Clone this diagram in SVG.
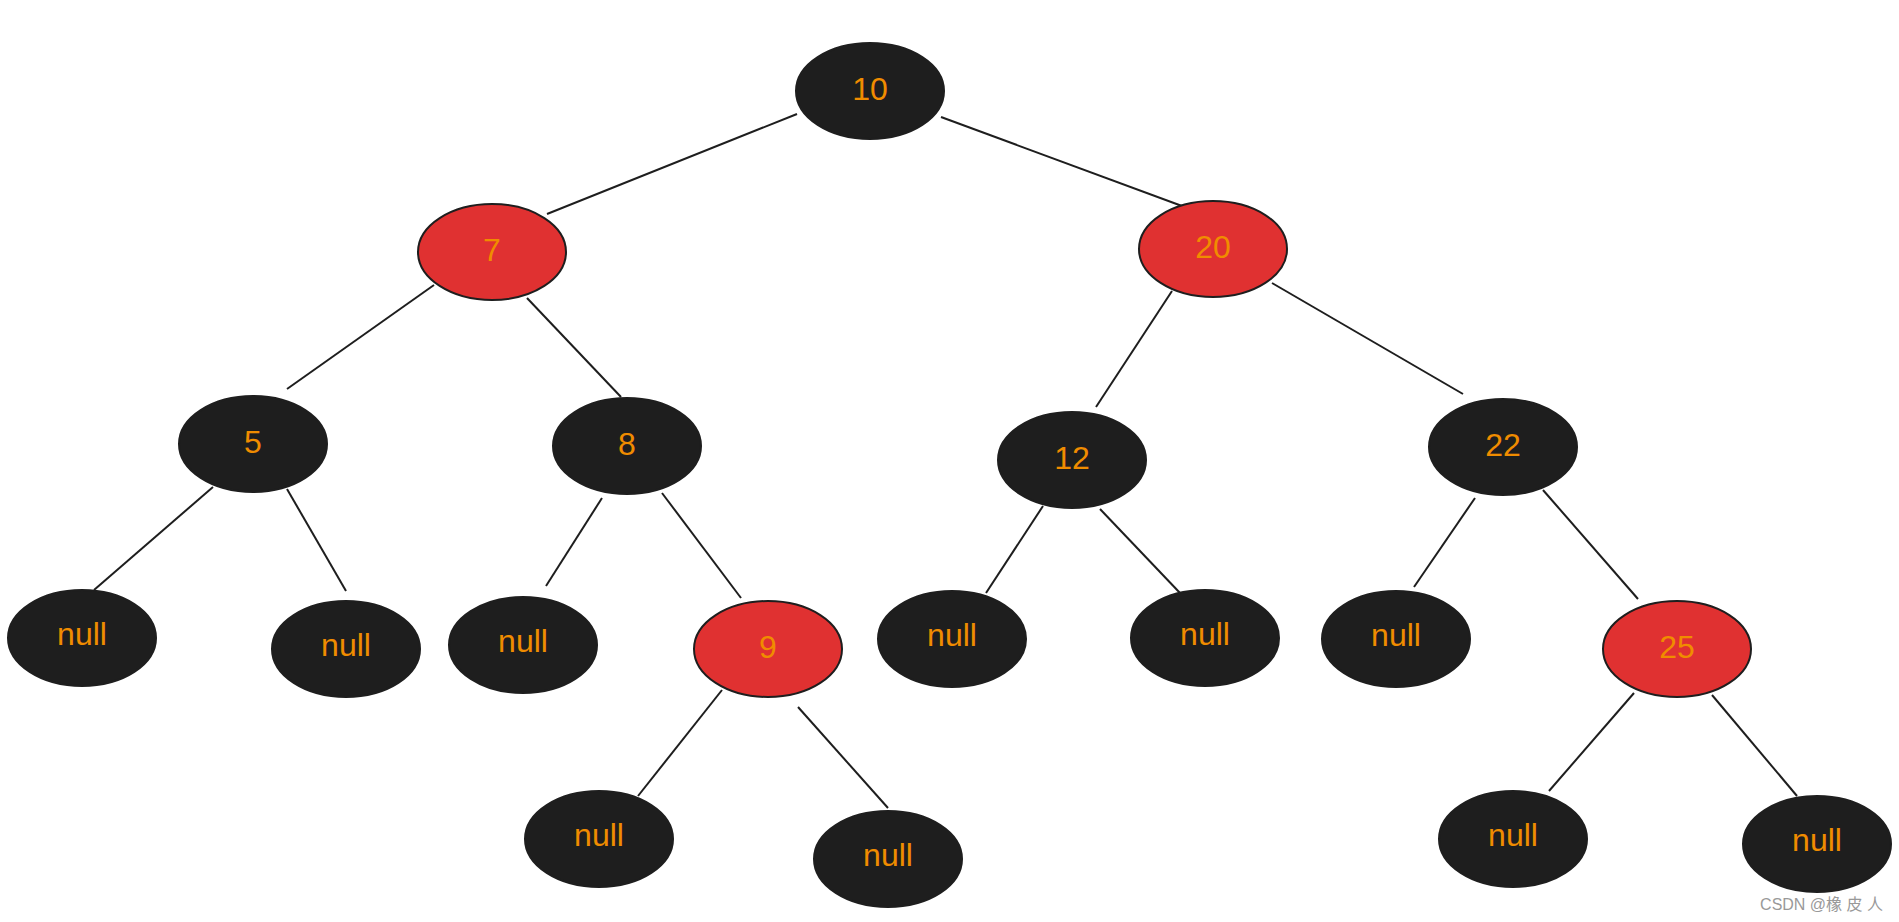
<svg xmlns="http://www.w3.org/2000/svg" width="1899" height="922" viewBox="0 0 1899 922">
<style>
.n ellipse{fill:#1e1e1e;stroke:#1e1e1e;stroke-width:2}
.r ellipse{fill:#e03131}
text{font-family:"Liberation Sans",sans-serif;font-size:32px;fill:#f08c00;text-anchor:middle;dominant-baseline:central}
#edges line{stroke:#1e1e1e;stroke-width:2}
</style>
<rect width="1899" height="922" fill="#fff"/>
<g id="edges">
<line x1="797" y1="114" x2="547" y2="214"/>
<line x1="941" y1="117" x2="1182" y2="206"/>
<line x1="434" y1="285" x2="287" y2="389"/>
<line x1="527" y1="298" x2="621" y2="397"/>
<line x1="1172" y1="291" x2="1096" y2="407"/>
<line x1="1272" y1="283" x2="1463" y2="394"/>
<line x1="213" y1="487" x2="94" y2="590"/>
<line x1="287" y1="489" x2="346" y2="591"/>
<line x1="602" y1="498" x2="546" y2="586"/>
<line x1="662" y1="493" x2="741" y2="598"/>
<line x1="1043" y1="506" x2="986" y2="593"/>
<line x1="1100" y1="509" x2="1180" y2="593"/>
<line x1="1475" y1="498" x2="1414" y2="587"/>
<line x1="1543" y1="490" x2="1638" y2="599"/>
<line x1="722" y1="690" x2="638" y2="796"/>
<line x1="798" y1="707" x2="888" y2="808"/>
<line x1="1634" y1="693" x2="1549" y2="791"/>
<line x1="1712" y1="695" x2="1797" y2="796"/>
</g>
<g id="n10" class="n"><ellipse cx="870" cy="91" rx="74" ry="48"/><text x="870" y="89">10</text></g>
<g id="n7" class="n r"><ellipse cx="492" cy="252" rx="74" ry="48"/><text x="492" y="250">7</text></g>
<g id="n20" class="n r"><ellipse cx="1213" cy="249" rx="74" ry="48"/><text x="1213" y="247">20</text></g>
<g id="n5" class="n"><ellipse cx="253" cy="444" rx="74" ry="48"/><text x="253" y="442">5</text></g>
<g id="n8" class="n"><ellipse cx="627" cy="446" rx="74" ry="48"/><text x="627" y="444">8</text></g>
<g id="n12" class="n"><ellipse cx="1072" cy="460" rx="74" ry="48"/><text x="1072" y="458">12</text></g>
<g id="n22" class="n"><ellipse cx="1503" cy="447" rx="74" ry="48"/><text x="1503" y="445">22</text></g>
<g id="null1" class="n"><ellipse cx="82" cy="638" rx="74" ry="48"/><text x="82" y="634">null</text></g>
<g id="null2" class="n"><ellipse cx="346" cy="649" rx="74" ry="48"/><text x="346" y="645">null</text></g>
<g id="null3" class="n"><ellipse cx="523" cy="645" rx="74" ry="48"/><text x="523" y="641">null</text></g>
<g id="n9" class="n r"><ellipse cx="768" cy="649" rx="74" ry="48"/><text x="768" y="647">9</text></g>
<g id="null4" class="n"><ellipse cx="952" cy="639" rx="74" ry="48"/><text x="952" y="635">null</text></g>
<g id="null5" class="n"><ellipse cx="1205" cy="638" rx="74" ry="48"/><text x="1205" y="634">null</text></g>
<g id="null6" class="n"><ellipse cx="1396" cy="639" rx="74" ry="48"/><text x="1396" y="635">null</text></g>
<g id="n25" class="n r"><ellipse cx="1677" cy="649" rx="74" ry="48"/><text x="1677" y="647">25</text></g>
<g id="null7" class="n"><ellipse cx="599" cy="839" rx="74" ry="48"/><text x="599" y="835">null</text></g>
<g id="null8" class="n"><ellipse cx="888" cy="859" rx="74" ry="48"/><text x="888" y="855">null</text></g>
<g id="null9" class="n"><ellipse cx="1513" cy="839" rx="74" ry="48"/><text x="1513" y="835">null</text></g>
<g id="null10" class="n"><ellipse cx="1817" cy="844" rx="74" ry="48"/><text x="1817" y="840">null</text></g>
<text x="1883" y="904" style="font-size:16px;fill:#999;text-anchor:end;font-family:'Liberation Sans','Noto Sans CJK SC',sans-serif">CSDN @橡 皮 人</text>
</svg>
